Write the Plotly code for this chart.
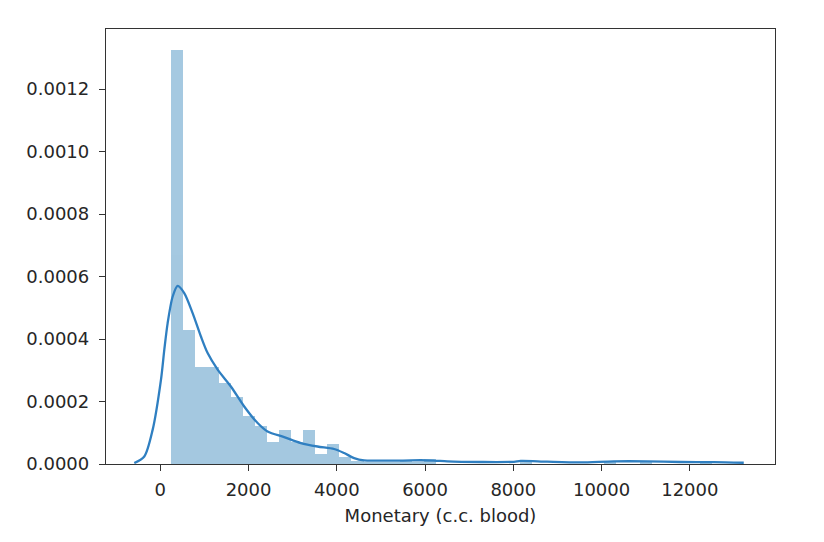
import plotly.graph_objects as go

# ── histogram (density) ──
BIN_START = 250
BIN_WIDTH = 272.2
HIST_DENSITY = [
    0.001326, 0.000429, 0.000309, 0.000309, 0.000259, 0.000213, 0.000155, 0.000122,
    0.000072, 0.000110, 0.000071, 0.000110, 0.000033, 0.000065, 0.000021, 0.0000083,
    0.0000049, 0.0000049, 0.0000049, 0.0000098, 0.0000049, 0.000017, 0, 0,
    0, 0, 0, 0, 0, 0.0000049, 0, 0,
    0, 0, 0, 0, 0.0000049, 0, 0, 0.0000049,
    0, 0, 0, 0, 0.0000049,
]

# ── KDE curve ──
KDE_X = [-589, -362, -172, 16, 91, 167, 281, 394, 543, 733, 921, 1073, 1300, 1600,
         1902, 2205, 2431, 2807, 3185, 3563, 3939, 4166, 4392, 4618, 5071, 5500,
         5902, 6203, 6506, 7260, 8013, 8166, 8770, 9525, 10275, 11034, 11788,
         12543, 13222]
KDE_Y = [0.000003, 0.000024, 0.00011, 0.00027, 0.000365, 0.000451, 0.000536, 0.00057,
         0.000547, 0.000483, 0.000408, 0.000355, 0.000302, 0.000248, 0.000184,
         0.000131, 0.000104, 0.000086, 0.000067, 0.000056, 0.000048, 0.000035,
         0.000019, 0.0000115, 0.000011, 0.000011, 0.000012, 0.000011, 0.0000083,
         0.0000064, 0.000007, 0.00001, 0.0000075, 0.0000053, 0.0000085, 0.0000085,
         0.0000064, 0.000006, 0.000004]

X_TICKS = [0, 2000, 4000, 6000, 8000, 10000, 12000]
X_TICK_TEXT = ["0", "2000", "4000", "6000", "8000", "10000", "12000"]
Y_TICKS = [0.0, 0.0002, 0.0004, 0.0006, 0.0008, 0.0010, 0.0012]
X_TITLE = "Monetary (c.c. blood)"

centers = [BIN_START + BIN_WIDTH * (i + 0.5) for i in range(len(HIST_DENSITY))]

fig = go.Figure()
fig.add_trace(go.Bar(
    x=centers, y=HIST_DENSITY, width=BIN_WIDTH,
    marker=dict(color='#1f77b4', line=dict(width=0)),
    opacity=0.4, showlegend=False,
))
fig.add_trace(go.Scatter(
    x=KDE_X, y=KDE_Y, mode='lines',
    line=dict(color='#2f7fc1', width=2.3, shape='spline', smoothing=0.8),
    showlegend=False,
))

axis_style = dict(
    showline=True, mirror=True, linecolor='#333333', linewidth=1.3,
    ticks='outside', ticklen=6, tickwidth=1.2, tickcolor='#333333',
    showgrid=False, zeroline=False,
    tickfont=dict(size=18, color='#262626'),
)

fig.update_xaxes(range=[-1230, 13930], tickvals=X_TICKS, ticktext=X_TICK_TEXT,
                 ticklabelstandoff=3,
                 title=dict(text=X_TITLE, font=dict(size=18, color='#262626'), standoff=10),
                 **axis_style)
fig.update_yaxes(range=[0, 0.001392], tickvals=Y_TICKS, tickformat='.4f',
                 ticklabelstandoff=6, **axis_style)

fig.update_layout(
    width=824, height=542,
    margin=dict(l=98, r=57, t=21, b=86),
    plot_bgcolor='white', paper_bgcolor='white',
    font=dict(family="DejaVu Sans", size=18, color='#262626'),
    bargap=0,
)

fig.write_html("out.html")
